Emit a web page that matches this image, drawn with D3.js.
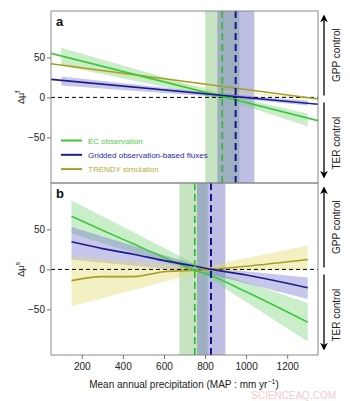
<!DOCTYPE html>
<html>
<head>
<meta charset="utf-8">
<script src="https://cdn.jsdelivr.net/npm/d3@7"></script>
<style>
  body { margin: 0; background: #fff; }
  text { font-family: Arial, "Liberation Sans", Helvetica, sans-serif; }
</style>
</head>
<body>
<script>
var w = 350;
var h = 401;

// tick values
var xTicks = [200, 400, 600, 800, 1000, 1200];
var yTicks = [-50, 0, 50];

// series names
var seriesNames = ["EC observation", "Gridded observation-based fluxes", "TRENDY simulation"];
var colors = ["#3cc83c", "#1c1c8c", "#a69e22"];
var bandColors = ["#7ad27a", "#7474cc", "#e0dc6c"];

// panel a: regression lines (MAP, value)
var aLineMAP = [50, 1350];
var aEC = [55, -29];
var aGrid = [22.5, -8.5];
var aTrendy = [42, -2];
// panel a: confidence bands (MAP, low, high)
var aBandMAP = [100, 900, 1300];
var aECLo = [40, -3, -36];
var aECHi = [62, 3, -20];
var aGridLo = [15, 0, -10];
var aGridHi = [26, 4, -4];
var aTrendyLo = [40, 6, -3];
var aTrendyHi = [43, 8, 0];
// panel a: threshold MAP and its range
var aThresh = [884, 949];
var aThreshLo = [801, 860];
var aThreshHi = [967, 1040];

// panel b
var bLineMAP = [150, 300, 450, 600, 750, 830, 1000, 1300];
var bEC = [66.5, 49, 32, 15, -1, -8, -28, -66];
var bGrid = [34.5, 26, 19, 11, 4, 0, -7, -23];
var bTrendy = [-14, -9, -9, -3, -1, 0, 4, 12.5];
var bBandMAP = [150, 790, 1300];
var bECLo = [45, -6, -90];
var bECHi = [86, 2, -42];
var bGridLo = [12, -4, -37];
var bGridHi = [53, 3, -10];
var bTrendyLo = [-46, -3, -1];
var bTrendyHi = [16, 3, 30];
var bThresh = [750, 829];
var bThreshLo = [675, 761];
var bThreshHi = [813, 899];

var left = 51, right = 318;
var panels = [
  {label: "a", top: 11, bottom: 183, yTitle: "f",
   lineX: aLineMAP, lines: [aEC, aGrid, aTrendy],
   bandX: aBandMAP, lo: [aECLo, aGridLo, aTrendyLo], hi: [aECHi, aGridHi, aTrendyHi],
   thresh: aThresh, tLo: aThreshLo, tHi: aThreshHi, legend: true},
  {label: "b", top: 183, bottom: 355, yTitle: "s",
   lineX: bLineMAP, lines: [bEC, bGrid, bTrendy],
   bandX: bBandMAP, lo: [bECLo, bGridLo, bTrendyLo], hi: [bECHi, bGridHi, bTrendyHi],
   thresh: bThresh, tLo: bThreshLo, tHi: bThreshHi, legend: false}
];

var xScale = d3.scaleLinear().domain([50, 1350]).range([left, right]);

var svg = d3.select("body")
  .append("svg")
  .attr("width", w)
  .attr("height", h);

var defs = svg.append("defs");
defs.append("marker")
  .attr("id", "head")
  .attr("viewBox", "0 0 10 10")
  .attr("refX", 8).attr("refY", 5)
  .attr("markerWidth", 6).attr("markerHeight", 6)
  .attr("orient", "auto-start-reverse")
  .append("path")
  .attr("d", "M0,0 L10,5 L0,10 L3,5 Z")
  .attr("fill", "#000");

var vBandColors = ["rgba(120,190,110,0.42)", "rgba(110,110,195,0.45)"];
var vLineColors = ["#2db82d", "#16168a"];

panels.forEach((p, pi) => {
  var yScale = d3.scaleLinear().domain([-107, 108]).range([p.bottom, p.top]);
  var g = svg.append("g");
  var clipId = "clip" + pi;
  defs.append("clipPath").attr("id", clipId)
    .append("rect")
    .attr("x", left).attr("y", p.top)
    .attr("width", right - left).attr("height", p.bottom - p.top);
  var plot = g.append("g").attr("clip-path", "url(#" + clipId + ")");

  // vertical threshold ranges
  p.thresh.forEach((t, i) => {
    plot.append("rect")
      .attr("x", xScale(p.tLo[i]))
      .attr("width", xScale(p.tHi[i]) - xScale(p.tLo[i]))
      .attr("y", p.top)
      .attr("height", p.bottom - p.top)
      .attr("fill", vBandColors[i]);
  });

  // confidence bands
  var area = d3.area()
    .x(d => xScale(d.x))
    .y0(d => yScale(d.lo))
    .y1(d => yScale(d.hi));
  p.lo.forEach((lo, i) => {
    var pts = p.bandX.map((x, j) => ({x: x, lo: lo[j], hi: p.hi[i][j]}));
    plot.append("path")
      .attr("d", area(pts))
      .attr("fill", bandColors[i])
      .attr("fill-opacity", 0.4);
  });

  // zero line
  plot.append("line")
    .attr("x1", left).attr("x2", right)
    .attr("y1", yScale(0)).attr("y2", yScale(0))
    .attr("stroke", "#000")
    .attr("stroke-width", 1)
    .attr("stroke-dasharray", "4,3");

  // regression lines
  var line = d3.line().x(d => xScale(d.x)).y(d => yScale(d.y)).curve(d3.curveMonotoneX);
  [2, 0, 1].forEach(i => {
    var pts = p.lineX.map((x, j) => ({x: x, y: p.lines[i][j]}));
    plot.append("path")
      .attr("d", line(pts))
      .attr("fill", "none")
      .attr("stroke", colors[i])
      .attr("stroke-width", 1.6);
  });

  // threshold dashed lines
  p.thresh.forEach((t, i) => {
    plot.append("line")
      .attr("x1", xScale(t)).attr("x2", xScale(t))
      .attr("y1", p.top).attr("y2", p.bottom)
      .attr("stroke", vLineColors[i])
      .attr("stroke-width", i == 0 ? 1.6 : 2)
      .attr("stroke-dasharray", "7,4");
  });

  // frame
  g.append("rect")
    .attr("x", left).attr("y", p.top)
    .attr("width", right - left).attr("height", p.bottom - p.top)
    .attr("fill", "none")
    .attr("stroke", "#8a8a8a")
    .attr("stroke-width", 1);

  // y axis
  var yAxis = g.append("g")
    .attr("transform", "translate(" + left + ",0)")
    .call(d3.axisLeft(yScale).tickValues(yTicks).tickSize(4).tickPadding(2)
      .tickFormat(d => d < 0 ? "\u2212" + Math.abs(d) : d));
  yAxis.select(".domain").remove();
  yAxis.selectAll("line").attr("stroke", "#777");
  yAxis.selectAll("text").attr("font-size", 10).attr("fill", "#222")
    .style("font-family", "Arial, 'Liberation Sans', sans-serif");

  // y title
  var yt = g.append("text")
    .attr("transform", "translate(24," + yScale(0) + ") rotate(-90)")
    .attr("text-anchor", "middle")
    .attr("font-size", 9)
    .attr("fill", "#222");
  yt.append("tspan").text("\u0394\u03bc");
  yt.append("tspan").attr("dy", -4).attr("font-size", 7).text(p.yTitle);

  // panel label
  g.append("text")
    .attr("x", left + 5).attr("y", p.top + 15)
    .attr("font-size", 13)
    .attr("font-weight", "bold")
    .attr("fill", "#111")
    .text(p.label);

  // control arrows
  var ax = 324;
  g.append("line")
    .attr("x1", ax).attr("x2", ax)
    .attr("y1", yScale(0) - 2).attr("y2", p.top + 5)
    .attr("stroke", "#000").attr("stroke-width", 1.3)
    .attr("marker-end", "url(#head)");
  g.append("line")
    .attr("x1", ax).attr("x2", ax)
    .attr("y1", yScale(0) + 5).attr("y2", p.bottom - 6)
    .attr("stroke", "#000").attr("stroke-width", 1.3)
    .attr("marker-end", "url(#head)");
  g.append("text")
    .attr("transform", "translate(340," + ((p.top + yScale(0)) / 2 + 1) + ") rotate(-90)")
    .attr("text-anchor", "middle")
    .attr("font-size", 10)
    .attr("fill", "#222")
    .text("GPP control");
  g.append("text")
    .attr("transform", "translate(340," + ((p.bottom + yScale(0)) / 2 + 3) + ") rotate(-90)")
    .attr("text-anchor", "middle")
    .attr("font-size", 10)
    .attr("fill", "#222")
    .text("TER control");

  // x axis on bottom panel
  if (pi == 1) {
    var xAxis = g.append("g")
      .attr("transform", "translate(0," + p.bottom + ")")
      .call(d3.axisBottom(xScale).tickValues(xTicks).tickSize(4).tickPadding(4)
        .tickFormat(d3.format("d")));
    xAxis.select(".domain").remove();
    xAxis.selectAll("line").attr("stroke", "#777");
    xAxis.selectAll("text").attr("font-size", 10).attr("fill", "#222")
      .style("font-family", "Arial, 'Liberation Sans', sans-serif");
  }

  // legend
  if (p.legend) {
    var legendColors = ["#4ccc4c", "#2a2aa0", "#b4ac3a"];
    seriesNames.forEach((name, i) => {
      var ly = 140.5 + i * 14.3;
      g.append("line")
        .attr("x1", 61).attr("x2", 82)
        .attr("y1", ly).attr("y2", ly)
        .attr("stroke", colors[i])
        .attr("stroke-width", 2);
      g.append("text")
        .attr("x", 88).attr("y", ly + 3)
        .attr("font-size", 8)
        .attr("fill", legendColors[i])
        .text(name);
    });
  }
});

// x title
var xt = svg.append("text")
  .attr("x", 184).attr("y", 388)
  .attr("text-anchor", "middle")
  .attr("font-size", 10)
  .attr("fill", "#222");
xt.append("tspan").text("Mean annual precipitation (MAP : mm yr");
xt.append("tspan").attr("dy", -4).attr("font-size", 7).text("\u22121");
xt.append("tspan").attr("dy", 4).text(")");

// watermark
svg.append("text")
  .attr("x", 336).attr("y", 399)
  .attr("text-anchor", "end")
  .attr("font-size", 10)
  .attr("fill", "#f2cccc")
  .text("SCIENCEAQ.COM");
</script>
</body>
</html>
